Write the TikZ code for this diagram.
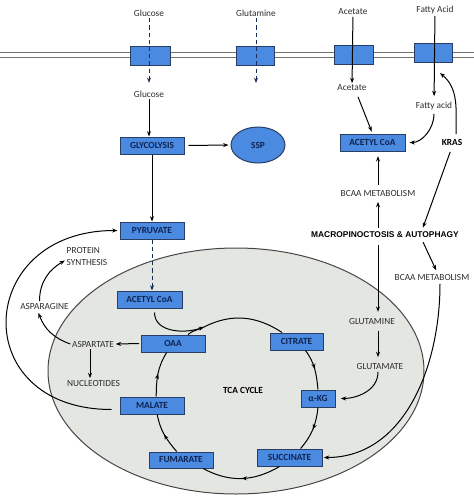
\documentclass[tikz,border=0pt]{standalone}
\usepackage{fontspec}
\setmainfont{Carlito}
\newfontfamily\arialfont{Liberation Sans}
\usetikzlibrary{arrows.meta,calc,shapes.geometric,decorations.markings}

\definecolor{boxblue}{RGB}{74,138,224}
\definecolor{boxline}{RGB}{40,62,100}
\definecolor{boxtext}{RGB}{15,35,80}
\definecolor{mitofill}{RGB}{228,230,226}
\definecolor{mitoline}{RGB}{70,70,70}
\definecolor{labelgray}{RGB}{45,45,45}
\definecolor{membrane}{RGB}{115,115,115}
\definecolor{dashblue}{RGB}{25,45,90}

\newcommand\lblfont{\fontsize{7}{8}\selectfont}

\tikzset{every picture/.style={line width=0.75pt}}
\tikzset{
  arr/.style={-{Stealth[length=4pt,width=3pt]}},
  dasharr/.style={arr, dashed, dash pattern=on 3.2pt off 2.2pt, draw=dashblue},
  midarrow/.style={postaction={decorate},
    decoration={markings, mark=at position 0.5 with {\arrow{Stealth[length=4pt,width=3pt]}}}},
  enzbox/.style={draw=boxline, fill=boxblue, text=boxtext, font=\lblfont\bfseries,
    inner sep=0pt, minimum height=12.75pt},
  trbox/.style={draw=boxline, fill=boxblue, inner sep=0pt, minimum height=14.25pt},
  lbl/.style={font=\lblfont, text=labelgray, inner sep=1pt},
  boldlbl/.style={font=\lblfont\bfseries, text=black, inner sep=1pt}
}

\begin{document}
\begin{tikzpicture}[x=0.75pt,y=0.75pt,yscale=-1,xscale=1]
\useasboundingbox (0,0) rectangle (474,497);

%Shape: Mitochondrion
\draw[mitoline, fill=mitofill] (236,371) ellipse [x radius=188, y radius=123];

%Straight Lines: membrane
\draw[membrane] (0,52) -- (474,52);
\draw[membrane] (0,57) -- (474,57);

%Shape: transporters
\node[trbox, minimum width=30pt] (tr1) at (150,55.5) {};
\node[trbox, minimum width=28.5pt] (tr2) at (255,55.5) {};
\node[trbox, minimum width=29.25pt] (tr3) at (353.5,55) {};
\node[trbox, minimum width=28.5pt] (tr4) at (433,52.5) {};

% Text Node
\node[lbl] (glcout) at (149,13) {Glucose};
\node[lbl] (glnout) at (256,13) {Glutamine};
\node[lbl] (aceout) at (353,12) {Acetate};
\node[lbl] (faout) at (435,10) {Fatty Acid};
\node[lbl] (glcin) at (149,94) {Glucose};
\node[lbl] (acein) at (352,88) {Acetate};
\node[lbl] (fain) at (434,106) {Fatty acid};
\node[boldlbl] (kras) at (452,142) {KRAS};
\coordinate (glnend) at (256,83);
\coordinate (krasend) at (440,73);

%Boxes
\node[enzbox, minimum width=48pt] (glycolysis) at (152,145.5) {GLYCOLYSIS};
\node[ellipse, draw=boxline, fill=boxblue, text=boxtext, font=\lblfont\bfseries,
  inner sep=0pt, minimum width=40.5pt, minimum height=27pt] (ssp) at (258,145) {SSP};
\node[enzbox, minimum width=48.75pt] (acoa1) at (372.5,142.5) {ACETYL CoA};
\node[enzbox, minimum width=48pt] (pyruvate) at (152,230.5) {PYRUVATE};
\node[enzbox, minimum width=48.75pt] (acoa2) at (149.5,299.5) {ACETYL CoA};
\node[enzbox, minimum width=48pt] (oaa) at (173,343.5) {OAA};
\node[enzbox, minimum width=39.75pt] (citrate) at (296.5,341.5) {CITRATE};
\node[enzbox, minimum width=25.5pt] (akg) at (318,398.5) {α-KG};
\node[enzbox, minimum width=48.75pt] (succinate) at (289.5,457.5) {SUCCINATE};
\node[enzbox, minimum width=48pt, minimum height=12pt] (fumarate) at (181,460) {FUMARATE};
\node[enzbox, minimum width=48pt] (malate) at (152,405.5) {MALATE};

% Text Node
\node[lbl] (bcaaup) at (378,193) {BCAA METABOLISM};
\node[font=\arialfont\bfseries\fontsize{6.3}{7.5}\selectfont, inner sep=1pt] (macro) at (385,235) {MACROPINOCTOSIS \& AUTOPHAGY};
\node[lbl] (bcaalow) at (432,277) {BCAA METABOLISM};
\node[lbl] (glnin) at (372,322) {GLUTAMINE};
\node[lbl] (glu) at (380,366) {GLUTAMATE};
\node[lbl, align=left] (prot) at (87,256.5) {PROTEIN\\[1pt]SYNTHESIS};
\node[lbl] (asparagine) at (44.5,306) {ASPARAGINE};
\node[lbl] (aspartate) at (93,344) {ASPARTATE};
\node[lbl] (nucleotides) at (93.5,383) {NUCLEOTIDES};
\node[boldlbl] (tca) at (243,390) {TCA CYCLE};
\coordinate (join) at (204,327);

%Arrows: uptake
\draw[dasharr, shorten >=4.5pt] (glcout) -- (glcin);
\draw[dasharr] (glnout) -- (glnend);
\draw[arr] (aceout) -- (acein);
\draw[arr, shorten >=3pt] (faout) -- (fain);
\draw[arr] (glcin.south) -- (glcin.south |- glycolysis.north);
\draw[arr, shorten <=3pt, shorten >=1.5pt] (glycolysis.east) -- (ssp.west);
\draw[arr, shorten >=1.5pt] ($(acein.south)+(6,4)$) -- (acoa1.north);
\draw[arr, shorten >=3pt] ($(fain.south)+(0,2)$) to[out=90,in=0] (acoa1.east);
\draw[arr] ($(kras.north)+(4,-3)$) to[out=-90,in=40] (krasend);

%Arrows: KRAS side
\draw[arr, shorten <=4pt, shorten >=2pt] (kras.south) -- ($(macro.north)+(37,0)$);
\draw[arr, shorten <=2pt, shorten >=3pt] (bcaaup.south |- macro.north) -- (bcaaup.south);
\draw[arr, shorten <=2pt, shorten >=3.5pt] (bcaaup.north) -- (bcaaup.north |- acoa1.south);
\draw[arr, shorten <=2pt, shorten >=1.5pt] ($(macro.south)+(37,0)$) -- ($(bcaalow.north)+(5,0)$);
\draw[arr, shorten <=4pt, shorten >=4pt] (bcaaup.south |- macro.south) -- (bcaaup.south |- glnin.north);
\draw[arr, shorten <=3pt, shorten >=3pt] (bcaaup.south |- glnin.south) -- (bcaaup.south |- glu.north);
\draw[arr, shorten >=4pt] ($(glu.south)+(-2,1)$) to[out=90,in=0] (akg.east);
\draw[arr, shorten >=1pt] ($(bcaalow.south)+(8,2)$) to[out=90,in=0] (succinate.east);

%Arrows: pyruvate and aspartate
\draw[arr] (glycolysis.south) -- (glycolysis.south |- pyruvate.north);
\draw[dasharr] (pyruvate.south) -- (pyruvate.south |- acoa2.north);
\draw[arr, shorten <=1pt] (oaa.west) -- (aspartate.east);
\draw[arr] ($(aspartate.south)+(-3,0)$) -- ($(nucleotides.north)+(-3.5,0)$);
\draw[arr] (aspartate.west) to[out=200,in=70] ($(asparagine.south)+(-6,2)$);
\draw[arr] ($(asparagine.north)+(-5,0)$) to[out=-90,in=150] ($(prot.west)+(0,4)$);
\draw[arr, shorten >=1.5pt] ($(malate.west)+(-8,4)$) to[out=180,in=180,looseness=2.07] (pyruvate.west);

%Arrows: TCA cycle
\draw[arr] ($(acoa2.south)+(5,4)$) to[out=90,in=160] (join);
\draw (oaa.31) to[out=-40,in=153] (join) to[out=-27,in=-146.5] (citrate.148);
\draw[midarrow] (citrate.-45) to[out=53.6,in=-95.8] (akg.north);
\draw[midarrow] (akg.south) to[out=96.5,in=-49.6] (succinate.39);
\draw[midarrow] (succinate.-138) to[out=149.5,in=28.5] (fumarate.-21);
\draw[midarrow] (fumarate.117) to[out=-130.6,in=79] (malate.-60);
\draw[midarrow] (malate.65) to[out=-89.3,in=122] (oaa.-125);

\end{tikzpicture}
\end{document}
